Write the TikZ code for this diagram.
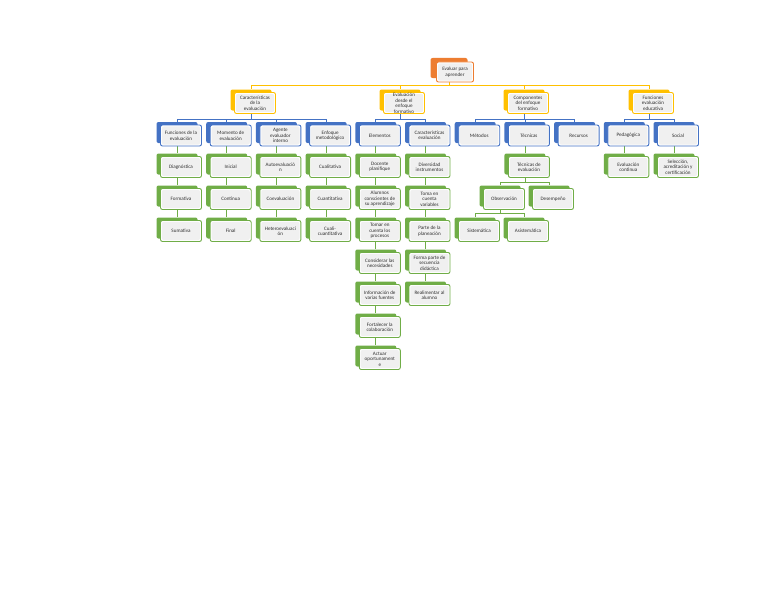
\documentclass[tikz,border=0pt]{standalone}
\usepackage{fontspec}
\setmainfont{Carlito}
\pgfdeclarelayer{bg}
\pgfsetlayers{bg,main}
\definecolor{cor}{HTML}{ED7D31}
\definecolor{cye}{HTML}{FFC000}
\definecolor{cbl}{HTML}{4472C4}
\definecolor{cgr}{HTML}{70AD47}
\definecolor{txt}{HTML}{303030}
\tikzset{
 bk/.style={rectangle, rounded corners=2pt, fill=#1, minimum width=41pt, minimum height=21pt, inner sep=0pt},
 fr/.style={rectangle, rounded corners=2pt, draw=#1, line width=0.9pt, fill=white,
   minimum width=41pt, minimum height=21pt, inner sep=0.5pt, align=center, text=txt,
   font=\fontsize{5.1}{5.5}\selectfont,
   path picture={\fill[black!6] ([shift={(1.4pt,1.4pt)}]path picture bounding box.south west) rectangle ([shift={(-1.4pt,-1.4pt)}]path picture bounding box.north east);}},
 con/.style={draw=#1, line width=0.8pt}
}
\newcommand\nd[5]{%
 \node[bk=#4] (#1) at ({#2-4},{#3-3}) {};
 \node[fr=#4] (#1f) at (#2,#3) {#5};}
\begin{document}
\begin{tikzpicture}[x={(1pt,0pt)}, y={(0pt,-1pt)}]
\useasboundingbox (0,0) rectangle (768,594);
% root
\node[bk=cor, minimum width=37pt, minimum height=20pt] (root) at (449,68) {};
\node[fr=cor, minimum width=37pt, minimum height=20pt] (rootf) at (455,72) {Evaluar para\\aprender};
% yellow
\nd{y1}{255}{103}{cye}{Características\\de la\\evaluación}
\nd{y2}{404}{103}{cye}{Evaluación\\desde el\\enfoque\\formativo}
\nd{y3}{528}{103}{cye}{Componentes\\del enfoque\\formativo}
\nd{y4}{653}{103}{cye}{Funciones\\evaluación\\educativa}
% blue
\nd{a1}{181}{135.5}{cbl}{Funciones de la\\evaluación}
\nd{a2}{230.7}{135.5}{cbl}{Momento de\\evaluación}
\nd{a3}{280.4}{135.5}{cbl}{Agente\\evaluador\\interno}
\nd{a4}{330.1}{135.5}{cbl}{Enfoque\\metodológico}
\nd{a5}{379.8}{135.5}{cbl}{Elementos}
\nd{a6}{429.5}{135.5}{cbl}{Características\\evaluación}
\nd{a7}{479.2}{135.5}{cbl}{Métodos}
\nd{a8}{528.9}{135.5}{cbl}{Técnicas}
\nd{a9}{578.6}{135.5}{cbl}{Recursos}
\nd{a10}{628.3}{135.5}{cbl}{Pedagógica}
\nd{a11}{678}{135.5}{cbl}{Social}
% green col 1
\nd{g11}{181}{167}{cgr}{Diagnóstica}
\nd{g12}{181}{199}{cgr}{Formativa}
\nd{g13}{181}{231}{cgr}{Sumativa}
% col 2
\nd{g21}{230.7}{167}{cgr}{Inicial}
\nd{g22}{230.7}{199}{cgr}{Continua}
\nd{g23}{230.7}{231}{cgr}{Final}
% col 3
\nd{g31}{280.4}{167}{cgr}{Autoevaluació\\n}
\nd{g32}{280.4}{199}{cgr}{Coevaluación}
\nd{g33}{280.4}{231}{cgr}{Heteroevaluaci\\ón}
% col 4
\nd{g41}{330.1}{167}{cgr}{Cualitativa}
\nd{g42}{330.1}{199}{cgr}{Cuantitativa}
\nd{g43}{330.1}{231}{cgr}{Cuali-\\cuantitativa}
% col 5
\nd{g51}{379.8}{167}{cgr}{Docente\\planifique}
\nd{g52}{379.8}{199}{cgr}{Alumnos\\conscientes de\\su aprendizaje}
\nd{g53}{379.8}{231}{cgr}{Tomar en\\cuenta los\\procesos}
\nd{g54}{379.8}{263}{cgr}{Considerar las\\necesidades}
\nd{g55}{379.8}{295}{cgr}{Información de\\varias fuentes}
\nd{g56}{379.8}{327}{cgr}{Fortalecer la\\colaboración}
\nd{g57}{379.8}{359}{cgr}{Actuar\\oportunament\\e}
% col 6
\nd{g61}{429.5}{167}{cgr}{Diversidad\\instrumentos}
\nd{g62}{429.5}{199}{cgr}{Toma en\\cuenta\\variables}
\nd{g63}{429.5}{231}{cgr}{Parte de la\\planeación}
\nd{g64}{429.5}{263}{cgr}{Forma parte de\\secuencia\\didáctica}
\nd{g65}{429.5}{295}{cgr}{Realimentar al\\alumno}
% tecnicas
\nd{tt}{528.9}{167}{cgr}{Técnicas de\\evaluación}
\nd{ob}{504}{199}{cgr}{Observación}
\nd{de}{553}{199}{cgr}{Desempeño}
\nd{si}{479}{231}{cgr}{Sistemática}
\nd{as}{528}{231}{cgr}{Asistemática}
% funciones
\nd{pe}{628.3}{167}{cgr}{Evaluación\\continua}
\nd{so}{678}{167}{cgr}{Selección,\\acreditación y\\certificación}
% connectors
\coordinate (b0) at (0,85);
\coordinate (b1) at (0,119);
\coordinate (b2) at (0,182);
\coordinate (b3) at (0,213);
\begin{pgfonlayer}{bg}
\fill[white] (0,0) rectangle (768,594);
\foreach \c in {y1,y2,y3,y4}
  \draw[con=cye] (root.south) -- (root.south |- b0) -| (\c.north);
\foreach \p/\c in {y1/a1,y1/a2,y1/a3,y1/a4,y2/a5,y2/a6,y3/a7,y3/a8,y3/a9,y4/a10,y4/a11}
  \draw[con=cbl] (\p.south) -- (\p.south |- b1) -| (\c.north);
\foreach \p/\c in {a1/g11,g11/g12,g12/g13,a2/g21,g21/g22,g22/g23,a3/g31,g31/g32,g32/g33,
  a4/g41,g41/g42,g42/g43,a5/g51,g51/g52,g52/g53,g53/g54,g54/g55,g55/g56,g56/g57,
  a6/g61,g61/g62,g62/g63,g63/g64,g64/g65,a8/tt,a10/pe,a11/so}
  \draw[con=cgr] (\p.south) -- (\c.north);
\foreach \c in {ob,de}
  \draw[con=cgr] (tt.south) -- (tt.south |- b2) -| (\c.north);
\foreach \c in {si,as}
  \draw[con=cgr] (ob.south) -- (ob.south |- b3) -| (\c.north);
\end{pgfonlayer}
\end{tikzpicture}
\end{document}
